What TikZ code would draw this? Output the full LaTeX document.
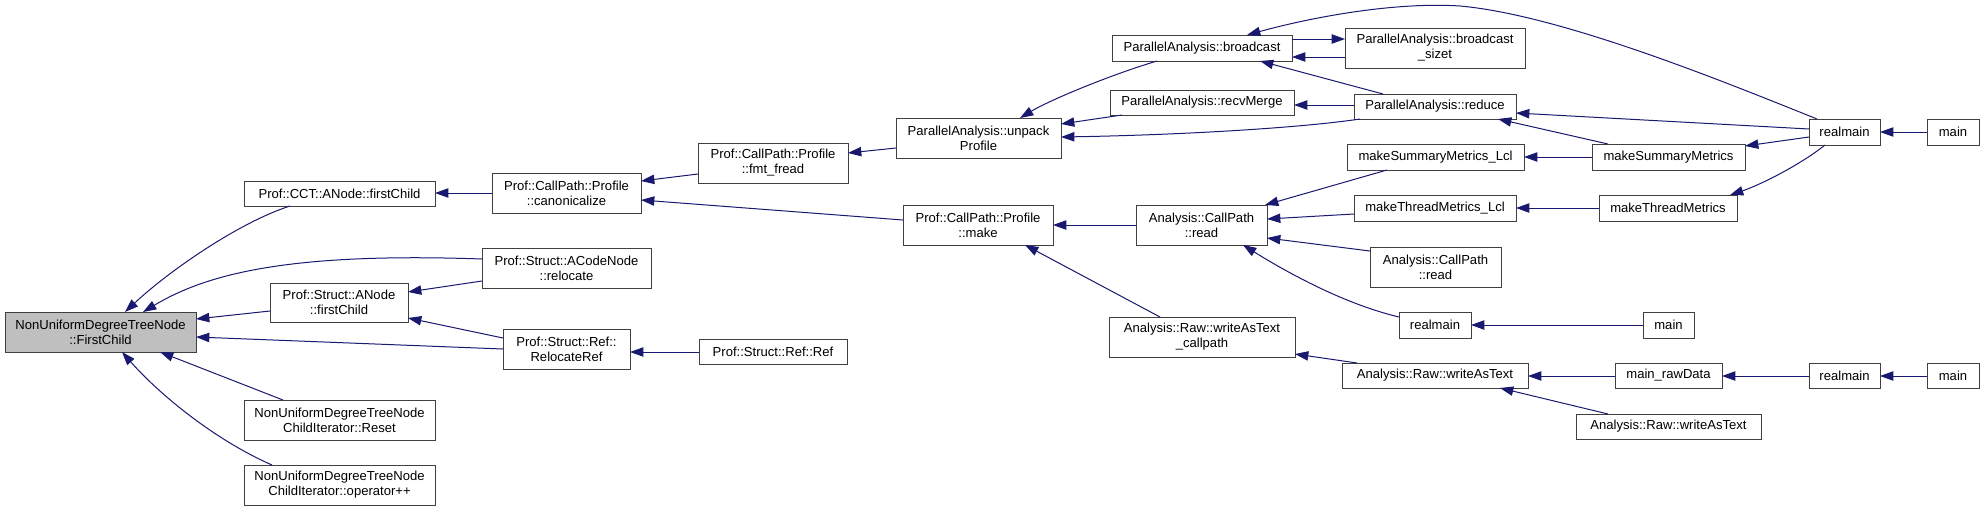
\documentclass[tikz,border=0pt]{standalone}
\usepackage{fontspec}
\setmainfont{Liberation Sans}
\usetikzlibrary{arrows.meta,calc}
\definecolor{edgecol}{HTML}{191970}
\definecolor{boxline}{HTML}{404040}
\definecolor{boxfill}{HTML}{BFBFBF}
\newcommand{\bx}[7][]{\node[box,minimum width={(#5-#3)*0.75pt},minimum height={(#6-#4)*0.75pt},#1] (#2) at ({(#3+#5)/2},{(#4+#6)/2}) {#7};}
\begin{document}
\begin{tikzpicture}[x=0.75pt,y=-0.75pt,
  box/.style={draw=boxline,line width=0.75pt,fill=white,rectangle,inner sep=0pt,outer sep=0pt,align=center,font=\fontsize{9.8}{11.25}\selectfont},
  edge/.style={draw=edgecol,line width=0.75pt,{Triangle[length=10pt,width=7pt]}-}]
\fill[white] (0,0) rectangle (1984,511);
\useasboundingbox (0,0) rectangle (1984,511);

\bx[fill=boxfill]{fc}{5}{312}{196}{352}{NonUniformDegreeTreeNode\\::FirstChild}
\bx{cct}{244}{181}{435}{206}{Prof::CCT::ANode::firstChild}
\bx{sanode}{270}{283}{408}{322}{Prof::Struct::ANode\\::firstChild}
\bx{reset}{244}{400}{435}{440}{NonUniformDegreeTreeNode\\ChildIterator::Reset}
\bx{opp}{244}{465}{435}{505}{NonUniformDegreeTreeNode\\ChildIterator::operator++}
\bx{canon}{492}{173}{641}{213}{Prof::CallPath::Profile\\::canonicalize}
\bx{fmt}{698}{143}{848}{183}{Prof::CallPath::Profile\\::fmt\_fread}
\bx{acode}{482}{248}{651}{288}{Prof::Struct::ACodeNode\\::relocate}
\bx{reloc}{503}{329}{630}{369}{Prof::Struct::Ref::\\RelocateRef}
\bx{refref}{699}{339}{847}{364}{Prof::Struct::Ref::Ref}
\bx{unpack}{896}{118}{1061}{158}{ParallelAnalysis::unpack\\Profile}
\bx{make}{903}{205}{1053}{245}{Prof::CallPath::Profile\\::make}
\bx{bcast}{1112}{35}{1292}{61}{ParallelAnalysis::broadcast}
\bx{recv}{1110}{90}{1294}{115}{ParallelAnalysis::recvMerge}
\bx{readm}{1136}{205}{1267}{245}{Analysis::CallPath\\::read}
\bx{wcp}{1109}{317}{1295}{357}{Analysis::Raw::writeAsText\\\_callpath}
\bx{sizet}{1345}{28}{1525}{68}{ParallelAnalysis::broadcast\\\_sizet}
\bx{reduce}{1354}{94}{1516}{119}{ParallelAnalysis::reduce}
\bx{msl}{1347}{144}{1524}{170}{makeSummaryMetrics\_Lcl}
\bx{mtl}{1354}{195}{1516}{221}{makeThreadMetrics\_Lcl}
\bx{readr}{1370}{247}{1501}{287}{Analysis::CallPath\\::read}
\bx{rm2}{1399}{312}{1471}{338}{realmain}
\bx{wat}{1342}{363}{1528}{388}{Analysis::Raw::writeAsText}
\bx{msm}{1592}{144}{1745}{170}{makeSummaryMetrics}
\bx{mtm}{1599}{195}{1737}{221}{makeThreadMetrics}
\bx{main2}{1643}{312}{1694}{338}{main}
\bx{mrd}{1615}{363}{1722}{388}{main\_rawData}
\bx{wat2}{1576}{414}{1761}{439}{Analysis::Raw::writeAsText}
\bx{rm1}{1809}{119}{1880}{145}{realmain}
\bx{main1}{1927}{119}{1979}{145}{main}
\bx{rm3}{1809}{363}{1880}{388}{realmain}
\bx{main3}{1927}{363}{1979}{388}{main}

\draw[edge] ($(fc.north west)+(120,0)$) .. controls (170,270) and (240,222) .. ($(cct.north west)+(46,25)$);
\draw[edge] ($(fc.north west)+(138,0)$) .. controls (205,275) and (285,252) .. ($(acode.north west)+(0,11)$);
\draw[edge] ($(fc.north west)+(191,7)$) -- ($(sanode.north west)+(0,28)$);
\draw[edge] ($(fc.north west)+(191,25)$) -- ($(reloc.north west)+(0,20)$);
\draw[edge] ($(fc.north west)+(155,40)$) -- ($(reset.north west)+(39,0)$);
\draw[edge] ($(fc.north west)+(117,40)$) .. controls (160,395) and (215,440) .. ($(opp.north west)+(28,0)$);
\draw[edge] ($(sanode.north west)+(138,9)$) -- ($(acode.north west)+(0,33)$);
\draw[edge] ($(sanode.north west)+(138,35)$) -- ($(reloc.north west)+(0,9)$);
\draw[edge] ($(cct.north west)+(191,12)$) -- ($(canon.north west)+(0,20)$);
\draw[edge] ($(canon.north west)+(149,8)$) -- ($(fmt.north west)+(0,31)$);
\draw[edge] ($(canon.north west)+(149,27)$) -- ($(make.north west)+(0,15)$);
\draw[edge] ($(fmt.north west)+(150,10)$) -- ($(unpack.north west)+(0,30)$);
\draw[edge] ($(unpack.north west)+(124,0)$) .. controls (1050,100) and (1110,75) .. ($(bcast.north west)+(45,26)$);
\draw[edge] ($(unpack.north west)+(165,6)$) -- ($(recv.north west)+(12,25)$);
\draw[edge] ($(unpack.north west)+(165,19)$) .. controls (1180,135) and (1300,128) .. ($(reduce.north west)+(6,25)$);
\draw[edge] ($(sizet.north west)+(0,11)$) -- ($(bcast.north west)+(180,4)$);
\draw[edge] ($(bcast.north west)+(180,22)$) -- ($(sizet.north west)+(0,29)$);
\draw[edge] ($(bcast.north west)+(148,26)$) -- ($(reduce.north west)+(29,0)$);
\draw[edge] ($(bcast.north west)+(135,0)$) .. controls (1320,15) and (1400,2) .. (1460,6) .. controls (1560,15) and (1720,80) .. ($(rm1.north west)+(8,0)$);
\draw[edge] ($(recv.north west)+(184,15)$) -- ($(reduce.north west)+(0,11)$);
\draw[edge] ($(reduce.north west)+(162,19)$) -- ($(rm1.north west)+(0,10)$);
\draw[edge] ($(reduce.north west)+(144,25)$) -- ($(msm.north west)+(16,0)$);
\draw[edge] ($(msm.north west)+(153,2)$) -- ($(rm1.north west)+(0,18)$);
\draw[edge] ($(mtm.north west)+(131,0)$) .. controls (1760,185) and (1800,165) .. ($(rm1.north west)+(16,26)$);
\draw[edge] ($(msl.north west)+(177,13)$) -- ($(msm.north west)+(0,13)$);
\draw[edge] ($(mtl.north west)+(162,13)$) -- ($(mtm.north west)+(0,13)$);
\draw[edge] ($(rm1.north west)+(71,13)$) -- ($(main1.north west)+(0,13)$);
\draw[edge] ($(readm.north west)+(129,0)$) -- ($(msl.north west)+(40,26)$);
\draw[edge] ($(readm.north west)+(131,14)$) -- ($(mtl.north west)+(0,19)$);
\draw[edge] ($(readm.north west)+(131,33)$) -- ($(readr.north west)+(0,4)$);
\draw[edge] ($(readm.north west)+(107,40)$) .. controls (1280,268) and (1340,303) .. ($(rm2.north west)+(0,5)$);
\draw[edge] ($(make.north west)+(150,20)$) -- ($(readm.north west)+(0,20)$);
\draw[edge] ($(make.north west)+(122,40)$) -- ($(wcp.north west)+(51,0)$);
\draw[edge] ($(rm2.north west)+(72,13)$) -- ($(main2.north west)+(0,13)$);
\draw[edge] ($(wcp.north west)+(186,37)$) -- ($(wat.north west)+(15,0)$);
\draw[edge] ($(wat.north west)+(186,13)$) -- ($(mrd.north west)+(0,13)$);
\draw[edge] ($(wat.north west)+(158,25)$) -- ($(wat2.north west)+(32,0)$);
\draw[edge] ($(mrd.north west)+(107,13)$) -- ($(rm3.north west)+(0,13)$);
\draw[edge] ($(rm3.north west)+(71,13)$) -- ($(main3.north west)+(0,13)$);
\draw[edge] ($(reloc.north west)+(127,23)$) -- ($(refref.north west)+(0,13)$);
\end{tikzpicture}
\end{document}
